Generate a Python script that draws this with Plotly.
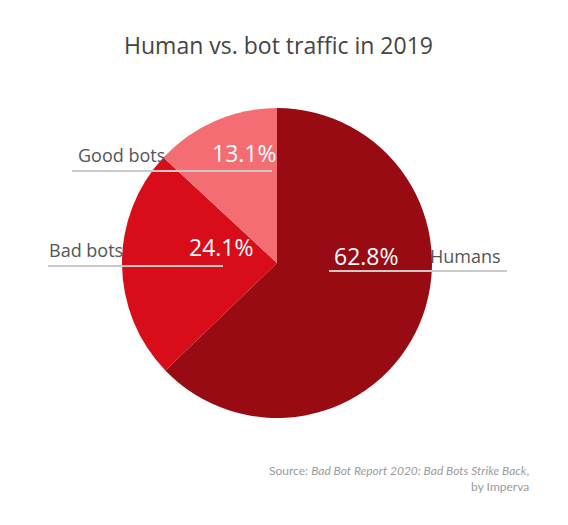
import plotly.graph_objects as go

# Données
labels = ["Humans", "Bad bots", "Good bots"]
values = [62.8, 24.1, 13.1]
colors = ["#990b13", "#d80d19", "#f46d72"]

W, H = 568, 525
OFF = 8  # marge par défaut du <body> dans la page
cx, cy, r = 277, 263, 155


def px(x):
    return (x - OFF) / W


def py(y):
    return 1 - (y - OFF) / H


fig = go.Figure(go.Pie(
    labels=labels,
    values=values,
    sort=False,
    direction="clockwise",
    rotation=0,
    textinfo="none",
    hoverinfo="label+percent",
    marker=dict(colors=colors, line=dict(width=0)),
    domain=dict(x=[px(cx - r), px(cx + r)], y=[py(cy + r), py(cy - r)]),
    showlegend=False,
))

# positions des étiquettes (pourcentage, nom, trait)
pct_pos = [(366, 256), (187, 247), (244, 153)]
name_pos = [(428, 256, "left"), (125, 250, "right"), (167, 155, "right")]
line_pos = [(329, 507, 271), (48, 223, 266), (72, 272, 171)]

shapes = []
annotations = []
for lab, val, (ppx, ppy), (nx, ny, anc), (x0, x1, ly) in zip(labels, values, pct_pos, name_pos, line_pos):
    shapes.append(dict(type="line", xref="paper", yref="paper",
                       x0=px(x0), x1=px(x1), y0=py(ly), y1=py(ly),
                       line=dict(color="#c9c9c9", width=2)))
    annotations.append(dict(x=px(ppx), y=py(ppy), xref="paper", yref="paper",
                            text=f"{val:.1f}%", showarrow=False,
                            yanchor="middle",
                            font=dict(family="Open Sans", size=23, color="white")))
    annotations.append(dict(x=px(nx), y=py(ny), xref="paper", yref="paper",
                            text=lab, showarrow=False, xanchor=anc,
                            yanchor="middle",
                            font=dict(family="Open Sans", size=18, color="#555555")))

annotations.append(dict(
    x=px(531), y=py(478), xref="paper", yref="paper", showarrow=False,
    xanchor="right", align="right", yanchor="middle",
    text="Source: <i>Bad Bot Report 2020: Bad Bots Strike Back</i>,<br>by Imperva",
    font=dict(family="Lato", size=12, color="#9a9a9a"),
))

fig.update_layout(
    width=W, height=H,
    margin=dict(l=0, r=0, t=0, b=0),
    paper_bgcolor="white",
    title=dict(text="Human vs. bot traffic in 2019", x=px(278.5), xanchor="center",
               y=py(46), yanchor="middle",
               font=dict(family="Open Sans", size=23, color="#444444")),
    shapes=shapes,
    annotations=annotations,
)

fig.write_html("out.html")
